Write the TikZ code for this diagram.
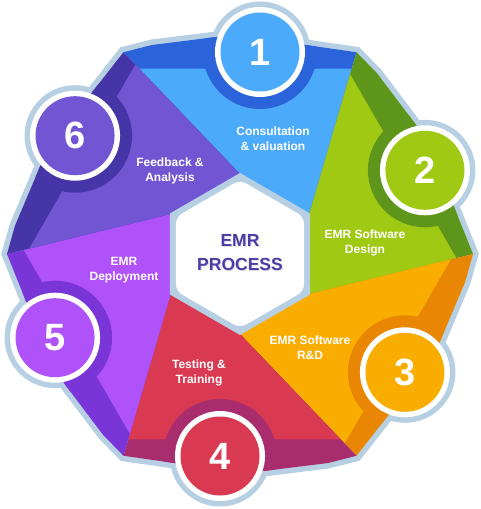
\documentclass[tikz,border=0pt]{standalone}
\usepackage{fontspec}
\setmainfont{Liberation Sans}
\definecolor{bord}{HTML}{B6CFE3}
\definecolor{mnA}{HTML}{4BAAF9}\definecolor{dkA}{HTML}{2B63DB}
\definecolor{mnB}{HTML}{A0C914}\definecolor{dkB}{HTML}{5E951B}
\definecolor{mnC}{HTML}{F9AD00}\definecolor{dkC}{HTML}{E98603}
\definecolor{mnD}{HTML}{D93A52}\definecolor{dkD}{HTML}{A92C6E}
\definecolor{mnE}{HTML}{B052F9}\definecolor{dkE}{HTML}{7A35D9}
\definecolor{mnF}{HTML}{7155D3}\definecolor{dkF}{HTML}{4535A6}
\definecolor{ctext}{HTML}{4B3CA7}
\tikzset{
  lbl/.style={text=white, font=\fontsize{12}{15}\selectfont\bfseries, align=center, inner sep=0pt},
  num/.style={text=white, font=\fontsize{38}{38}\selectfont\bfseries, inner sep=0pt},
  ctr/.style={text=ctext, font=\fontsize{17.5}{24}\selectfont\bfseries, align=center, inner sep=0pt},
}
\begin{document}
\begin{tikzpicture}[x=1pt,y=1pt]
\useasboundingbox (-240,-255) rectangle (240,254);
% outer light-blue border
\filldraw[bord, line width=11pt, line join=miter]
  (120:233pt) \foreach \o in {0,-60,-120,-180,-240,-300} {
   -- ({112.83+\o}:226.8pt) -- ({96.31+\o}:218.3pt) -- ({72.47+\o}:219.2pt)
   -- ({67.10+\o}:223.6pt) -- ({60+\o}:233pt) } -- cycle;
\foreach \o in {0,-60,-120,-180,-240,-300}
  \fill[bord] ({84.35+\o}:203pt) circle (50.5pt);
% sectors
\foreach \k/\o/\mn/\dk in {1/0/mnA/dkA, 2/-60/mnB/dkB, 3/-120/mnC/dkC, 4/-180/mnD/dkD, 5/-240/mnE/dkE, 6/-300/mnF/dkF}{
  \fill[\dk] ({90+\o}:80pt) -- ({120+\o}:233pt) -- ({112.83+\o}:226.8pt) -- ({96.31+\o}:218.3pt)
     -- ({72.47+\o}:219.2pt) -- ({67.10+\o}:223.6pt) -- ({60+\o}:233pt) -- ({30+\o}:80pt) -- cycle;
  \fill[\mn] ({90+\o}:80pt) -- ({118.52+\o}:210.9pt) -- ({58.92+\o}:216.4pt) -- ({30+\o}:80pt) -- cycle;
  \begin{scope}
    \clip ({90+\o}:80pt) -- ({120+\o}:233pt) -- ({112.83+\o}:226.8pt) -- ({96.31+\o}:218.3pt)
     -- ({72.47+\o}:219.2pt) -- ({67.10+\o}:223.6pt) -- ({60+\o}:233pt) -- ({30+\o}:80pt) -- cycle;
    \fill[\dk] ({84.35+\o}:203pt) circle (57pt);
  \end{scope}
  \fill[white] ({84.35+\o}:203pt) circle (45pt);
  \fill[\mn] ({84.35+\o}:203pt) circle (39.5pt);
  \node[num] (n\k) at ({84.35+\o}:203pt) {\k};
}
% centre hexagon
\fill[bord] (90:81pt) -- (30:81pt) -- (-30:81pt) -- (-90:81pt) -- (-150:81pt) -- (150:81pt) -- cycle;
\fill[white, rounded corners=7pt] (90:74pt) -- (30:74pt) -- (-30:74pt) -- (-90:74pt) -- (-150:74pt) -- (150:74pt) -- cycle;
\node[ctr, text=black!12] (cs) at (1,0) {EMR\\PROCESS};
\node[ctr] (c) at (0,1) {EMR\\PROCESS};
% labels
\node[lbl] (l1) at (33,115) {Consultation\\\& valuation};
\node[lbl] (l2) at (125,11) {EMR Software\\Design};
\node[lbl] (l3) at (70,-94) {EMR Software\\R\&D};
\node[lbl] (l4) at (-41,-119) {Testing \&\\Training};
\node[lbl] (l5) at (-116,-16) {EMR\\Deployment};
\node[lbl] (l6) at (-70,83) {Feedback \&\\Analysis};
\end{tikzpicture}
\end{document}
